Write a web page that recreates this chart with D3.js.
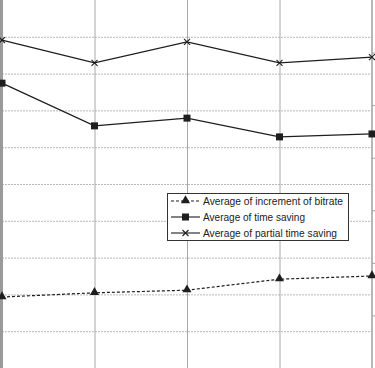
<!DOCTYPE html>
<html><head><meta charset="utf-8">
<script src="https://cdn.jsdelivr.net/npm/d3@7"></script>
<style>html,body{margin:0;padding:0;background:#fff;overflow:hidden}</style>
</head><body>
<svg id="c" width="375" height="368"></svg>
<script>
const categories = ["1", "2", "3", "4", "5"];
const bitrateIncrement = [1.35, 1.43, 1.48, 1.69, 1.75];
const timeSaving = [77.4, 65.8, 67.9, 62.8, 63.6];
const partialTimeSaving = [89.1, 82.9, 88.6, 82.9, 84.5];
const leftTicks = [10, 20, 30, 40, 50, 60, 70, 80, 90];
const rightTicks = [1, 2, 3, 4, 5, 6];
const legendLabels = ["Average of increment of bitrate", "Average of time saving", "Average of partial time saving"];

const svg = d3.select("#c");
const W = 375, H = 368;
const x = d3.scalePoint().domain(categories).range([2, 372]);
const yL = d3.scaleLinear().domain([0, 100]).range([H, 0]);
const yR = d3.scaleLinear().domain([0, 7]).range([H, 0]);

// horizontal dashed gridlines
svg.append("g").call(d3.axisLeft(yL).tickValues(leftTicks).tickSize(-(372 - 2)).tickFormat(""))
  .attr("transform", "translate(2,0)")
  .call(g => g.select(".domain").remove())
  .call(g => g.selectAll("line").attr("stroke", "#b8b8b8").attr("stroke-dasharray", "2,1").attr("stroke-width", 1));

// vertical gridlines
svg.append("g").attr("transform", `translate(0,${H})`)
  .call(d3.axisBottom(x).tickValues(categories.slice(1, 4)).tickSize(-H).tickFormat(""))
  .call(g => g.select(".domain").remove())
  .call(g => g.selectAll("line").attr("stroke", "#a8a8a8").attr("stroke-width", 1));

// right axis
svg.append("g").attr("transform", "translate(372,0)")
  .call(d3.axisRight(yR).tickValues(rightTicks).tickSize(4).tickFormat(""))
  .call(g => g.select(".domain").attr("stroke", "#a0a0a0").attr("stroke-width", 1.5).attr("d", `M0,0V${H}`))
  .call(g => g.selectAll("line").attr("stroke", "#a0a0a0"));

// left axis
svg.append("g").attr("transform", "translate(1.5,0)")
  .call(d3.axisLeft(yL).tickValues([]).tickSizeOuter(0))
  .call(g => g.select(".domain").attr("stroke", "#9a9a9a").attr("stroke-width", 3).attr("d", `M0,0V${H}`));

const col = "#1e1e1e";
function series(vals, yScale, dash, marker) {
  const line = d3.line().x((d, i) => x(categories[i])).y(d => yScale(d));
  svg.append("path").datum(vals).attr("d", line).attr("fill", "none")
    .attr("stroke", col).attr("stroke-width", 1.2).attr("stroke-dasharray", dash);
  vals.forEach((v, i) => drawMarker(marker, x(categories[i]), yScale(v)));
}
function drawMarker(type, cx, cy) {
  if (type === "tri") {
    svg.append("path").attr("d", d3.symbol(d3.symbolTriangle, 36)()).attr("transform", `translate(${cx},${cy - 0.5})`).attr("fill", col);
  } else if (type === "sq") {
    svg.append("rect").attr("x", cx - 3.5).attr("y", cy - 3.5).attr("width", 7).attr("height", 7).attr("fill", col);
  } else {
    svg.append("path").attr("d", `M${cx - 3},${cy - 3}L${cx + 3},${cy + 3}M${cx - 3},${cy + 3}L${cx + 3},${cy - 3}`)
      .attr("stroke", col).attr("stroke-width", 1.1);
  }
}
series(bitrateIncrement, yR, "3,2", "tri");
series(timeSaving, yL, null, "sq");
series(partialTimeSaving, yL, null, "x");

// legend
const lg = svg.append("g");
lg.append("rect").attr("x", 167.5).attr("y", 193.5).attr("width", 181).attr("height", 47)
  .attr("fill", "#fff").attr("stroke", "#333").attr("stroke-width", 1);
const types = ["tri", "sq", "x"];
const dashes = ["3,2", null, null];
const widths = [140, 102, 134];
legendLabels.forEach((t, i) => {
  const yy = 201 + i * 16;
  lg.append("line").attr("x1", 171).attr("x2", 200).attr("y1", yy).attr("y2", yy)
    .attr("stroke", col).attr("stroke-width", 1.1).attr("stroke-dasharray", dashes[i]);
  drawMarker(types[i], 185.5, yy);
  lg.append("text").attr("x", 203).attr("y", yy + 4).text(t)
    .attr("textLength", widths[i]).attr("lengthAdjust", "spacingAndGlyphs")
    .attr("font-family", "Liberation Sans, Arial, sans-serif").attr("font-size", 10.6).attr("fill", "#222");
});
</script>
</body></html>
